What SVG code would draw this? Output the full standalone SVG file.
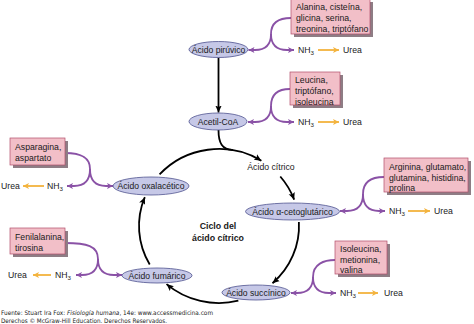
<svg xmlns="http://www.w3.org/2000/svg" width="474" height="324" viewBox="0 0 474 324">
<style>
.bg{fill:#fff}
.node ellipse{fill:#c6c8e7;stroke:#4f538f;stroke-width:0.8}
.node text{font-family:"Liberation Sans",Arial,sans-serif;font-size:8.6px;fill:#1a1a1a;text-anchor:middle}
.box rect.sh{fill:#8e7d85}
.box rect.bx{fill:#f2bfc8;stroke:#b24e6a;stroke-width:0.7}
.box text{font-family:"Liberation Sans",Arial,sans-serif;font-size:8.7px;fill:#1a1a1a}
.lbl{font-family:"Liberation Sans",Arial,sans-serif;font-size:8.7px;fill:#1a1a1a}
.sub{font-size:6.2px}
.cyc{fill:none;stroke:#000;stroke-width:1.8}
.pur{fill:none;stroke:#8a52a6;stroke-width:1.8}
.org{fill:none;stroke:#f3b33d;stroke-width:1.8}
.title{font-family:"Liberation Sans",Arial,sans-serif;font-size:8.8px;font-weight:bold;fill:#1a1a1a;text-anchor:middle}
.foot{font-family:"DejaVu Sans",Verdana,sans-serif;font-size:6.2px;fill:#222}
</style>
<defs>
<marker id="ab" markerUnits="userSpaceOnUse" markerWidth="9" markerHeight="8" refX="7" refY="3.5" orient="auto"><path d="M0,0.3 L7,3.5 L0,6.7 L1.5,3.5 z" fill="#000"/></marker>
<marker id="ap" markerUnits="userSpaceOnUse" markerWidth="8" markerHeight="7" refX="6" refY="3" orient="auto"><path d="M0,0 L6,3 L0,6 L1.5,3 z" fill="#8a52a6"/></marker>
<marker id="ao" markerUnits="userSpaceOnUse" markerWidth="8" markerHeight="7" refX="6" refY="3" orient="auto"><path d="M0,0 L6,3 L0,6 L1.5,3 z" fill="#f3b33d"/></marker>
</defs>
<rect class="bg" x="0" y="0" width="474" height="324"/>

<g id="connectors">
  <!-- cycle -->
  <path class="cyc" d="M218.5,57.5 L218.5,112.5" marker-end="url(#ab)"/>
  <path class="cyc" d="M218.5,130 C218.5,143 222,149.5 233,150.2"/>
  <path class="cyc" d="M159.55,174.48 A80,77 0 0 1 261.39,160.70" marker-end="url(#ab)"/>
  <path class="cyc" d="M280.28,176.50 A80,77 0 0 1 294.18,199.66" marker-end="url(#ab)"/>
  <path class="cyc" d="M298.89,221.97 A80,77 0 0 1 272.53,283.22" marker-end="url(#ab)"/>
  <path class="cyc" d="M238.35,300.71 A80,77 0 0 1 166.51,284.11" marker-end="url(#ab)"/>
  <path class="cyc" d="M149.72,264.5 A80,77 0 0 1 144.82,197.16" marker-end="url(#ab)"/>
  <!-- purple forks -->
  <path class="pur" d="M291,18 C280,18 271,22 271,34 C271,45 265,50 255,50 L248.5,50" marker-end="url(#ap)"/>
  <path class="pur" d="M271,34 C271,45 277,50 287,50 L294,50" marker-end="url(#ap)"/>
  <path class="pur" d="M290,89 C279,89 271,93 271,106 C271,117 265,122 255,122 L248,122" marker-end="url(#ap)"/>
  <path class="pur" d="M271,106 C271,117 277,122 287,122 L294,122" marker-end="url(#ap)"/>
  <path class="pur" d="M384,177 C373,177 363,181 363,194 C363,206 357,211 347,211 L340,211" marker-end="url(#ap)"/>
  <path class="pur" d="M363,194 C363,206 369,211 379,211 L385,211" marker-end="url(#ap)"/>
  <path class="pur" d="M335,260 C324,260 313,264 313,277 C313,288 307,293 297,293 L291,293" marker-end="url(#ap)"/>
  <path class="pur" d="M313,277 C313,288 319,293 329,293 L336,293" marker-end="url(#ap)"/>
  <path class="pur" d="M65,153 C79,153 90,156 90,169 C90,181 96,186 106,186 L113,186" marker-end="url(#ap)"/>
  <path class="pur" d="M90,169 C90,181 84,186 74,186 L67,186" marker-end="url(#ap)"/>
  <path class="pur" d="M65,243 C87,243 98,246 98,259 C98,270 104,275 114,275 L122,275" marker-end="url(#ap)"/>
  <path class="pur" d="M98,259 C98,270 92,275 82,275 L76,275" marker-end="url(#ap)"/>
  <!-- orange NH3 -> Urea -->
  <path class="org" d="M318,50 L339,50" marker-end="url(#ao)"/>
  <path class="org" d="M318,122 L339,122" marker-end="url(#ao)"/>
  <path class="org" d="M408,211 L430,211" marker-end="url(#ao)"/>
  <path class="org" d="M358,293 L378,293" marker-end="url(#ao)"/>
  <path class="org" d="M44,186 L23,186" marker-end="url(#ao)"/>
  <path class="org" d="M51,275 L33,275" marker-end="url(#ao)"/>
</g>

<g id="piruvico" class="node"><ellipse cx="218.5" cy="49.5" rx="29.5" ry="8"/><text x="218.5" y="52.6">Ácido pirúvico</text></g>
<g id="acetilcoa" class="node"><ellipse cx="218" cy="121.5" rx="29" ry="8.5"/><text x="218" y="124.6">Acetil-CoA</text></g>
<g id="oxalacetico" class="node"><ellipse cx="151" cy="186" rx="38" ry="9"/><text x="151" y="189.1">Ácido oxalacético</text></g>
<g id="cetoglutarico" class="node"><ellipse cx="292.5" cy="211.5" rx="47" ry="8.5"/><text x="292.5" y="214.6">Ácido α-cetoglutárico</text></g>
<g id="succinico" class="node"><ellipse cx="256" cy="292.5" rx="34" ry="7.5"/><text x="256" y="295.6">Ácido succínico</text></g>
<g id="fumarico" class="node"><ellipse cx="157" cy="275.5" rx="35" ry="7.5"/><text x="157" y="278.6">Ácido fumárico</text></g>

<g id="citrico-label"><text class="lbl" x="271" y="170" text-anchor="middle">Ácido cítrico</text></g>
<g id="ciclo-label"><text class="title" x="218" y="229">Ciclo del</text><text class="title" x="218" y="241">ácido cítrico</text></g>

<g id="box-piruvico" class="box">
  <rect class="sh" x="294" y="2" width="79" height="35"/>
  <rect class="bx" x="291" y="-1" width="79" height="35"/>
  <text x="296" y="10">Alanina, cisteína,</text>
  <text x="296" y="21">glicina, serina,</text>
  <text x="296" y="32">treonina, triptófano</text>
</g>
<g id="box-acetil" class="box">
  <rect class="sh" x="293" y="75" width="50" height="33"/>
  <rect class="bx" x="290" y="72" width="50" height="33"/>
  <text x="295" y="83">Leucina,</text>
  <text x="295" y="94">triptófano,</text>
  <text x="295" y="104.5">isoleucina</text>
</g>
<g id="box-ceto" class="box">
  <rect class="sh" x="387" y="161" width="84" height="34"/>
  <rect class="bx" x="384" y="158" width="84" height="34"/>
  <text x="389" y="170">Arginina, glutamato,</text>
  <text x="389" y="181">glutamina, histidina,</text>
  <text x="389" y="191">prolina</text>
</g>
<g id="box-succ" class="box">
  <rect class="sh" x="338" y="244" width="52" height="33"/>
  <rect class="bx" x="335" y="241" width="52" height="33"/>
  <text x="340" y="252">Isoleucina,</text>
  <text x="340" y="263">metionina,</text>
  <text x="340" y="273">valina</text>
</g>
<g id="box-oxal" class="box">
  <rect class="sh" x="13" y="141" width="55" height="27"/>
  <rect class="bx" x="10" y="138" width="55" height="27"/>
  <text x="15" y="150">Asparagina,</text>
  <text x="15" y="161">aspartato</text>
</g>
<g id="box-fum" class="box">
  <rect class="sh" x="13" y="231" width="55" height="26"/>
  <rect class="bx" x="10" y="228" width="55" height="26"/>
  <text x="15" y="240">Fenilalanina,</text>
  <text x="15" y="251">tirosina</text>
</g>

<g id="nh3-urea">
  <text class="lbl" x="298" y="53">NH<tspan class="sub" dy="2">3</tspan></text><text class="lbl" x="343" y="53">Urea</text>
  <text class="lbl" x="298" y="125">NH<tspan class="sub" dy="2">3</tspan></text><text class="lbl" x="343" y="125">Urea</text>
  <text class="lbl" x="389" y="214">NH<tspan class="sub" dy="2">3</tspan></text><text class="lbl" x="434" y="214">Urea</text>
  <text class="lbl" x="340" y="296">NH<tspan class="sub" dy="2">3</tspan></text><text class="lbl" x="384" y="296">Urea</text>
  <text class="lbl" x="47" y="189">NH<tspan class="sub" dy="2">3</tspan></text><text class="lbl" x="1" y="189">Urea</text>
  <text class="lbl" x="55" y="278">NH<tspan class="sub" dy="2">3</tspan></text><text class="lbl" x="8" y="278">Urea</text>
</g>

<g id="footer">
  <text class="foot" x="1" y="315" textLength="212" lengthAdjust="spacingAndGlyphs">Fuente: Stuart Ira Fox: <tspan font-style="italic">Fisiología humana</tspan>, 14e: www.accessmedicina.com</text>
  <text class="foot" x="1" y="322.5" textLength="166" lengthAdjust="spacingAndGlyphs">Derechos © McGraw-Hill Education. Derechos Reservados.</text>
</g>
</svg>
